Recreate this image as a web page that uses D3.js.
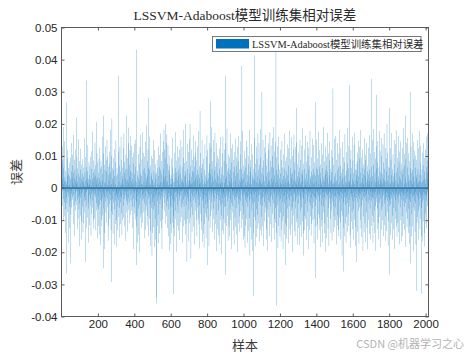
<!DOCTYPE html>
<html><head><meta charset="utf-8">
<script src="https://cdn.jsdelivr.net/npm/d3@7"></script>
<style>body{margin:0;background:#fff;overflow:hidden}</style>
</head><body>
<svg id="c" width="474" height="355"></svg>
<script>
const titleText = "LSSVM-Adaboost模型训练集相对误差";
const legendText = "LSSVM-Adaboost模型训练集相对误差";
const xLabelText = "样本";
const yLabelText = "误差";
const watermark = "CSDN @机器学习之心";
const xTicks = [200,400,600,800,1000,1200,1400,1600,1800,2000];
const yTicks = [-0.04,-0.03,-0.02,-0.01,0,0.01,0.02,0.03,0.04,0.05];
const xDomain = [0,2016];
const yDomain = [-0.04,0.05];
const valueUnit = 1e-4; // relative error values below are in units of 1e-4
const errE4 = [
42,-18,75,130,-9,-56,28,88,190,-34,12,-102,61,-7,146,-45,23,-88,35,-14,
-66,21,-140,54,8,-30,267,17,-266,-48,93,-12,38,-75,118,5,-26,62,-170,44,
-15,80,-58,11,-124,36,-6,95,-235,-40,27,-83,140,-19,52,-9,-61,33,104,-28,
71,-37,15,-112,48,166,-22,7,-54,89,-3,30,-150,58,-16,120,-41,24,-70,13,
220,-52,39,-8,96,-128,18,-36,61,-11,-95,44,152,-27,5,-66,84,-20,35,-180,
-48,14,-86,122,-31,57,-6,-160,29,73,-19,-104,45,-12,90,-58,21,-138,36,-4,
64,-110,18,-42,155,-27,8,-76,49,-15,-230,96,-38,22,-58,335,-11,66,-124,31,
-7,52,-92,16,134,-45,28,-64,9,-170,81,-23,40,-116,12,68,-33,-5,97,-54,
26,-148,60,-18,7,-82,115,-39,30,-9,176,-61,19,-100,48,-14,86,-126,34,-22,
58,-6,-94,142,-28,71,-17,39,-132,12,205,-47,25,-70,108,-10,-59,33,-156,80,
-24,47,-118,16,-66,92,-8,-145,31,-52,126,-13,60,-178,20,-37,85,-99,9,-42,
68,-120,24,160,-30,-86,44,-12,108,-64,-250,226,-18,-140,73,-29,15,-190,56,-5,
130,-42,18,-76,88,-11,-108,52,-26,150,-60,10,-34,97,-14,-164,41,-8,66,-120,
22,-50,114,-17,74,-96,6,-38,182,-21,48,-130,13,-72,100,-293,216,-35,62,-9,
-84,29,-142,57,-12,94,-46,18,-176,38,-5,-66,120,-25,80,-112,11,-40,148,-19,
-100,36,-14,-184,63,-28,8,-132,44,-58,112,-17,-90,350,-36,21,-154,70,-10,-62,
128,-24,51,-112,9,-44,160,-78,15,-30,88,-146,27,-8,64,-100,38,-20,124,-56,
12,-92,170,-34,47,-7,-118,82,-22,30,-164,58,-12,104,-40,19,-76,226,-27,60,
-136,25,-52,94,-11,140,-68,16,-30,188,-45,72,-9,-110,36,118,-23,54,-84,6,
162,-38,20,-70,132,-15,48,-124,28,-6,96,-58,14,-190,76,-33,110,-12,-80,42,
-16,138,-60,22,-98,66,-8,150,-36,-120,431,-44,-240,18,-88,54,-12,-170,40,-26,
106,-64,9,-146,32,-18,76,-200,24,-52,128,-10,-92,45,-30,166,-80,14,-124,38,
-6,88,-40,12,-108,174,-22,57,-15,-76,110,-34,20,-156,63,-11,98,-48,8,-130,
46,-26,144,-70,18,-9,196,-54,30,-116,84,-14,40,-88,120,-20,62,-150,280,-33,
15,-96,58,-24,160,-50,11,-134,70,-7,-180,36,-62,100,-18,46,-210,27,-44,92,
-140,23,-68,8,-122,150,-30,52,-184,16,-56,118,-12,-96,41,-25,74,-160,30,-9,
-360,48,-18,-340,88,-40,14,-118,62,-6,-172,130,-28,38,-84,10,-142,66,-21,104,
-50,19,-104,170,-35,56,-12,-126,84,-24,45,-190,18,-64,112,-8,-98,36,146,-30,
60,-14,182,-72,26,-6,120,-46,94,-20,200,-110,38,-10,140,-58,16,-88,168,-32,
75,-124,22,-40,134,-15,56,-150,9,-66,102,-28,44,-196,70,-18,-112,30,-56,12,
-176,40,-24,92,-140,13,-60,28,-108,156,-35,64,-8,-124,-330,18,-86,46,-16,-150,
110,-42,20,-96,62,-12,174,-70,33,-28,-198,86,-10,50,-118,24,-54,130,-20,-78,
38,-134,96,-15,58,-40,12,-162,120,-26,70,-9,-106,44,-22,150,-60,18,-90,30,
-12,128,-48,24,-170,66,-8,94,-36,-120,16,180,-58,36,-14,-100,78,-28,52,-144,
200,-22,40,-112,15,84,-52,-10,-230,138,-30,60,-18,-96,22,-166,112,-40,9,-68,
46,-110,26,-8,152,200,-44,18,-92,70,-220,35,-16,120,-60,12,-136,88,-25,54,
-84,16,164,-38,50,-12,-120,98,-30,22,-176,66,-8,108,-46,30,-70,146,-20,-100,
40,-16,86,-150,24,-60,130,-10,56,-36,-96,178,-24,42,-114,14,68,-188,32,-54,
240,-28,18,-80,110,-14,46,-130,62,-8,-104,150,-40,26,-168,74,-18,-62,12,-142,
92,-34,-186,20,56,-22,-112,136,-50,14,-78,40,-10,-156,98,-26,30,-90,164,-44,
-240,22,-64,118,-14,48,-102,30,-8,-180,76,-36,140,-20,58,-124,270,-12,44,-88,
126,-26,16,-70,190,-44,60,-10,-138,36,84,-18,-96,150,-30,22,-64,112,-8,-160,
54,-40,172,-16,28,-112,66,-6,-84,140,-34,18,-196,80,-22,46,-128,100,-12,38,
-70,14,-148,92,-26,60,-10,-174,122,-38,30,-100,12,158,-54,20,-86,44,-16,-206,
66,-30,108,-132,18,-48,160,-20,-96,40,-12,-144,84,-28,120,-60,16,-110,350,-270,
28,-56,140,-14,36,-118,76,-24,186,-42,10,-86,52,-8,-164,104,-30,62,-18,-120,
96,-12,44,-150,22,-66,170,-34,58,-100,14,124,-46,30,-190,80,-20,-76,136,-10,
-56,18,-132,88,-24,50,-8,-176,112,-36,66,-14,-92,154,-28,38,-120,20,-62,96,
-16,-144,70,-30,128,-10,-200,46,-22,84,-50,12,-110,162,-34,26,-88,58,-12,-136,
104,-40,18,-72,146,-18,60,-124,32,-8,380,-56,24,-98,178,-26,44,-160,70,-14,
-82,30,-150,116,-20,54,-10,-186,92,-36,16,-118,64,-24,148,-44,8,-96,128,-30,
42,-170,20,-58,100,-12,-134,74,-26,36,-94,182,-40,14,-210,66,-18,50,-122,88,
-34,12,-160,136,-22,-70,40,-8,-196,104,-48,26,-140,60,-14,-335,30,-90,156,-20,
413,-44,24,-180,76,-12,-100,48,-30,130,-66,18,-152,90,-10,-84,36,-126,170,-24,
58,-110,14,-42,140,-20,72,-166,28,-8,96,-52,20,-130,184,-34,46,-90,12,-148,
300,-26,64,-120,18,-56,150,-12,40,-180,86,-30,8,-104,126,-44,22,-76,166,-16,
-60,110,-24,36,-160,70,-10,-128,92,-20,48,-196,14,-66,140,-38,26,-90,118,-12,
52,-150,20,-44,174,-28,84,-112,10,-58,132,-22,66,-168,30,-8,100,-80,156,-36,
18,-124,64,-14,190,-48,28,-96,114,-20,-160,40,-10,144,-62,16,-108,428,-366,56,
-30,96,-140,22,-54,130,-16,42,-186,74,-24,10,-118,160,-40,30,-92,58,-12,-150,
120,-34,18,-76,46,-166,88,-20,12,-130,146,-44,26,-102,64,-10,-190,104,-28,38,
-88,14,-144,60,-22,170,-48,20,-110,84,-240,30,-12,-158,96,-36,52,-120,16,-64,
136,-18,40,-94,22,-172,70,-30,124,-10,-56,180,-38,14,-128,62,-24,90,-8,-146,
44,-70,158,-26,32,-114,10,-60,100,-200,48,-16,120,-42,24,-86,166,-12,-134,56,
-20,80,-150,18,-40,128,-64,26,-106,12,142,-30,250,-96,36,-14,-176,74,-22,50,
-124,20,-48,110,-10,64,-178,32,-24,150,-70,14,-116,88,-36,46,-152,18,-60,132,
-14,40,-104,186,-28,56,-12,-140,76,-34,-210,24,-86,120,-18,60,-132,10,-50,164,
30,-96,16,-162,82,-20,44,-8,-118,144,-40,22,-74,100,-26,-190,58,-12,126,-46,
12,-130,70,-16,178,-54,28,-88,36,-10,-148,96,-30,52,-112,20,-64,154,-18,40,
-100,60,-22,134,-44,14,-172,80,-28,46,-96,16,-56,267,-30,-280,38,-120,64,-12,
150,-36,22,-114,58,-14,-160,92,-20,40,-82,176,-26,12,-130,66,-40,-94,118,-8,
30,-184,74,-22,48,-120,10,140,-54,18,-100,62,-16,-168,104,-32,26,-76,190,-12,
-58,36,-140,20,84,-28,-110,56,-14,130,-200,44,-36,98,-20,-156,70,-10,30,-90,
172,-24,52,-126,14,-62,108,-18,-180,40,-34,86,-12,146,-48,22,-96,60,-16,-140,
26,-70,118,-30,50,-164,12,-42,96,-20,310,-56,18,-136,72,-10,-88,154,-26,36,
-122,14,-60,162,-24,46,-100,20,-8,-176,88,-32,24,-116,140,-18,56,-84,12,-150,
66,-20,-130,108,-40,16,-92,182,-26,38,-160,70,-12,-108,124,-34,22,-72,48,-14,
-210,30,-86,144,-18,60,-124,12,-44,96,-260,36,-16,-150,80,-28,168,-52,18,-110,
40,-12,-170,112,-30,54,-90,14,-136,76,-22,188,-46,20,-118,62,-8,-80,132,-36,
24,320,-58,16,-146,90,-20,44,-186,118,-28,10,-104,62,-16,-74,160,-40,28,-128,
86,-14,46,-160,20,-66,134,-28,12,-98,172,-42,24,-120,58,-10,-180,76,-30,40,
-230,56,-18,110,-44,22,-136,84,-12,-70,148,-24,36,-174,92,-16,-60,128,-34,14,
-100,180,-20,48,-126,18,-56,96,-10,-152,64,-38,120,-14,30,-196,74,-26,44,-88,
14,-138,156,-30,60,-12,-110,88,-22,36,-168,104,-40,18,-76,140,-16,-124,52,-8,
70,-190,26,-48,126,-20,42,-100,14,164,-36,58,-144,22,-64,108,-12,-160,34,-26,
340,-40,20,-118,66,-14,-86,150,-28,38,-170,72,-10,-106,184,-32,24,-70,112,-18,
-140,46,-12,92,-56,16,-196,130,-30,60,290,-44,18,-128,80,-22,-64,146,-14,36,
-110,24,-160,64,-20,178,-46,12,-90,116,-34,50,-184,28,-14,100,-68,20,-130,156,
-26,44,-100,14,-58,136,-22,80,-150,30,-10,170,-48,24,-116,60,-18,-88,124,-36,
18,-164,92,-28,52,-12,-134,200,-40,22,-74,110,-16,-180,66,-30,40,-104,14,-56,
250,-36,-270,62,-18,124,-50,14,-146,88,-24,40,-110,172,-32,20,-86,58,-12,-160,
104,-20,36,-128,16,-62,150,-28,46,-190,74,-14,-96,138,-38,24,-72,180,-18,-120,
50,-10,-152,94,-32,18,-108,64,-24,162,-46,12,-138,82,-20,36,-176,114,-14,-60,
28,-100,146,-26,54,-12,-166,76,-36,20,-88,126,-18,44,-150,60,-10,-112,188,-40,
-24,70,-130,14,-58,106,-20,226,-46,30,-184,92,-16,-76,140,-34,18,-122,64,-12,
-96,156,-28,40,-140,20,-64,110,-14,-174,84,-36,26,-118,300,-20,-235,62,-44,130,
-16,48,-150,22,-82,170,-30,56,-120,12,-60,144,-24,36,-196,90,-18,-70,116,-40,
20,-136,64,-12,102,-48,-176,30,-20,88,-320,40,-108,150,-26,14,-90,60,-160,18,
124,-34,-70,46,-14,178,-56,22,-128,80,-18,-96,132,-30,40,-150,16,-62,-330,58,
-22,110,-44,20,-166,72,-12,-104,140,-36,26,-140,94,-18,52,-182,30,-80,120,-26,
14,-110,66,-40,160,-20,-126,48,-14,86,170,-56,30,-100,140
];

const svg = d3.select("#c");
const plot = {l:61.5, r:428.5, t:27.5, b:316.5};
const x = d3.scaleLinear().domain(xDomain).range([plot.l, plot.r]);
const y = d3.scaleLinear().domain(yDomain).range([plot.b, plot.t]);
const barColor = "#0072BD";
const axisColor = "#5a5a5a";
const tickFont = "'Liberation Sans', Arial, sans-serif";
const serifFont = "'Liberation Serif', 'Times New Roman', 'Noto Sans CJK SC', serif";

svg.append("rect").attr("x",0).attr("y",0).attr("width",474).attr("height",355).attr("fill","#fff");

svg.append("defs").append("clipPath").attr("id","clip")
  .append("rect").attr("x",plot.l).attr("y",plot.t).attr("width",plot.r-plot.l).attr("height",plot.b-plot.t);

const data = errE4.map((v,i)=>({i:i+1, v:v*valueUnit}));
const bw = 1.4; // drawn width in sample units (bar plus its edge line)
svg.append("g").attr("clip-path","url(#clip)")
  .selectAll("rect").data(data).join("rect")
  .attr("x", d=>x(d.i-bw/2))
  .attr("width", d=>x(d.i+bw/2)-x(d.i-bw/2))
  .attr("y", d=>y(Math.max(d.v,0)))
  .attr("height", d=>Math.abs(y(d.v)-y(0)))
  .attr("fill", barColor);

// baseline
svg.append("line").attr("x1",plot.l).attr("x2",plot.r).attr("y1",y(0)).attr("y2",y(0))
  .attr("stroke","#1d4f78").attr("stroke-width",1);

function styleAxis(g){
  g.select(".domain").remove();
  g.selectAll(".tick line").attr("stroke",axisColor);
  g.selectAll(".tick text").attr("fill","#262626").attr("font-family",tickFont).attr("font-size","11.5px");
}
const fmtY = d => d===0 ? "0" : d.toFixed(2);
svg.append("g").attr("transform",`translate(0,${plot.b})`)
  .call(d3.axisBottom(x).tickValues(xTicks).tickSize(-3).tickPadding(3).tickFormat(d=>String(d)))
  .call(styleAxis);
svg.append("g").attr("transform",`translate(0,${plot.t})`)
  .call(d3.axisTop(x).tickValues(xTicks).tickSize(-3).tickFormat(""))
  .call(styleAxis);
svg.append("g").attr("transform",`translate(${plot.l},0)`)
  .call(d3.axisLeft(y).tickValues(yTicks).tickSize(-3).tickPadding(4).tickFormat(fmtY))
  .call(styleAxis);
svg.append("g").attr("transform",`translate(${plot.r},0)`)
  .call(d3.axisRight(y).tickValues(yTicks).tickSize(-3).tickFormat(""))
  .call(styleAxis);

svg.append("rect").attr("x",plot.l).attr("y",plot.t).attr("width",plot.r-plot.l).attr("height",plot.b-plot.t)
  .attr("fill","none").attr("stroke",axisColor).attr("stroke-width",1);

// title
svg.append("text").attr("x",(plot.l+plot.r)/2).attr("y",20).attr("text-anchor","middle")
  .attr("font-family",serifFont).attr("font-size","13.5px").attr("fill","#2a2a2a").text(titleText);

// axis labels
svg.append("text").attr("x",(plot.l+plot.r)/2).attr("y",350).attr("text-anchor","middle")
  .attr("font-family",serifFont).attr("font-size","13px").attr("fill","#3a3a3a").text(xLabelText);
svg.append("text").attr("transform",`translate(21,${(plot.t+plot.b)/2}) rotate(-90)`).attr("text-anchor","middle")
  .attr("font-family",serifFont).attr("font-size","13px").attr("fill","#3a3a3a").text(yLabelText);

// legend
const lg = svg.append("g");
lg.append("rect").attr("x",212.5).attr("y",36.5).attr("width",208.5).attr("height",15)
  .attr("fill","#fff").attr("stroke","#777").attr("stroke-width",1);
lg.append("rect").attr("x",216).attr("y",39).attr("width",33).attr("height",9.5).attr("fill",barColor);
lg.append("text").attr("x",252).attr("y",47.8).attr("font-family",serifFont).attr("font-size","10.4px")
  .attr("fill","#2a2a2a").text(legendText);

// watermark
svg.append("text").attr("x",464).attr("y",348).attr("text-anchor","end")
  .attr("font-family","'Noto Sans CJK SC', sans-serif").attr("font-size","11px").attr("fill","#b4b4b4").text(watermark);
</script>
</body></html>
